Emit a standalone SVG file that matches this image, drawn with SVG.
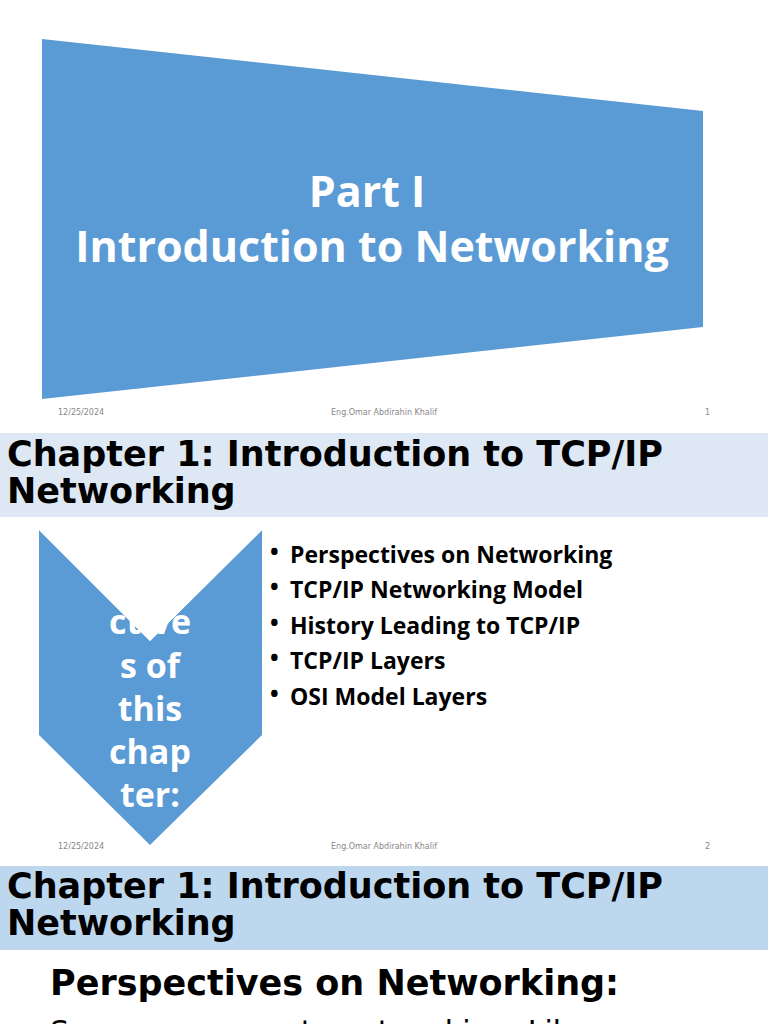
<svg xmlns="http://www.w3.org/2000/svg" width="768" height="1024" viewBox="0 0 768 1024">
<style>
.foot{font-family:"DejaVu Sans",sans-serif;font-size:8px;fill:#888}
.h{font-family:"DejaVu Sans",sans-serif;font-weight:bold;font-size:35px;fill:#000}
.b{font-family:"Open Sans","Liberation Sans",sans-serif;font-weight:bold;font-size:23px;fill:#000}
.w{font-family:"Open Sans","Liberation Sans",sans-serif;font-weight:bold;fill:#fff;text-anchor:middle}
</style>
<rect width="768" height="1024" fill="#fff"/>
<g id="title-shape">
<polygon points="42,39 703,111 703,327 42,399" fill="#5b9bd5"/>
<text class="w" x="367" y="207" font-size="43">Part I</text>
<text class="w" x="372" y="262" font-size="43">Introduction to Networking</text>
</g>
<g id="footer1">
<text class="foot" x="58" y="415">12/25/2024</text>
<text class="foot" x="384" y="415" text-anchor="middle">Eng.Omar Abdirahin Khalif</text>
<text class="foot" x="705" y="415">1</text>
</g>
<g id="slide2-header">
<rect x="0" y="433" width="768" height="84" fill="#dde8f4"/>
<text class="h" x="7" y="466">Chapter 1: Introduction to TCP/IP</text>
<text class="h" x="7" y="503">Networking</text>
</g>
<g id="chevron">
<polygon points="39,530 150,641 262,530 262,735 150,845 39,735" fill="#5b9bd5"/>
<text class="w" x="150" y="634" font-size="34">ctive</text>
<text class="w" x="150" y="678" font-size="34">s of</text>
<text class="w" x="150" y="721" font-size="34">this</text>
<text class="w" x="150" y="764" font-size="34">chap</text>
<text class="w" x="150" y="807" font-size="34">ter:</text>
<polygon points="39,530 150,641 262,530 262,520 39,520" fill="#fff"/>
</g>
<g id="bullets">
<text class="b" x="270" y="560">•</text><text class="b" x="290" y="563">Perspectives on Networking</text>
<text class="b" x="270" y="595">•</text><text class="b" x="290" y="598">TCP/IP Networking Model</text>
<text class="b" x="270" y="631">•</text><text class="b" x="290" y="634">History Leading to TCP/IP</text>
<text class="b" x="270" y="666">•</text><text class="b" x="290" y="669">TCP/IP Layers</text>
<text class="b" x="270" y="702">•</text><text class="b" x="290" y="705">OSI Model Layers</text>
</g>
<g id="footer2">
<text class="foot" x="58" y="849">12/25/2024</text>
<text class="foot" x="384" y="849" text-anchor="middle">Eng.Omar Abdirahin Khalif</text>
<text class="foot" x="705" y="849">2</text>
</g>
<g id="slide3-header">
<rect x="0" y="866" width="768" height="84" fill="#bdd7ee"/>
<text class="h" x="7" y="898">Chapter 1: Introduction to TCP/IP</text>
<text class="h" x="7" y="935">Networking</text>
</g>
<g id="slide3-body">
<text x="50" y="995" font-family="DejaVu Sans,sans-serif" font-weight="bold" font-size="35">Perspectives on Networking:</text>
<text x="50" y="1042" font-family="DejaVu Sans,sans-serif" font-size="30">So, you are new to networking. Like many</text>
</g>
</svg>
